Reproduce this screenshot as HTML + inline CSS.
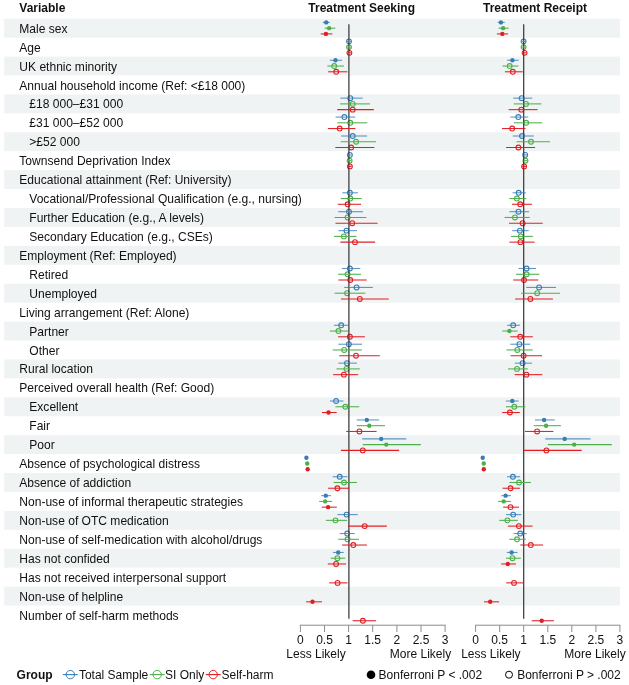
<!DOCTYPE html>
<html lang="en"><head><meta charset="utf-8"><title>Forest plot</title>
<style>html,body{margin:0;padding:0;background:#fff}body{width:629px;height:685px;overflow:hidden}svg{display:block}text{font-family:"Liberation Sans",Arial,Helvetica,sans-serif;font-size:12px;fill:#111}.l{font-size:12.06px}.b{font-weight:bold}</style></head><body>
<svg width="629" height="685" viewBox="0 0 629 685">
<rect width="629" height="685" fill="#fff"/>
<rect x="4.2" y="18.70" width="615.7" height="18.93" fill="#f0f3f3"/>
<rect x="4.2" y="56.56" width="615.7" height="18.93" fill="#f0f3f3"/>
<rect x="4.2" y="94.42" width="615.7" height="18.93" fill="#f0f3f3"/>
<rect x="4.2" y="132.28" width="615.7" height="18.93" fill="#f0f3f3"/>
<rect x="4.2" y="170.14" width="615.7" height="18.93" fill="#f0f3f3"/>
<rect x="4.2" y="208.00" width="615.7" height="18.93" fill="#f0f3f3"/>
<rect x="4.2" y="245.86" width="615.7" height="18.93" fill="#f0f3f3"/>
<rect x="4.2" y="283.72" width="615.7" height="18.93" fill="#f0f3f3"/>
<rect x="4.2" y="321.58" width="615.7" height="18.93" fill="#f0f3f3"/>
<rect x="4.2" y="359.44" width="615.7" height="18.93" fill="#f0f3f3"/>
<rect x="4.2" y="397.30" width="615.7" height="18.93" fill="#f0f3f3"/>
<rect x="4.2" y="435.16" width="615.7" height="18.93" fill="#f0f3f3"/>
<rect x="4.2" y="473.02" width="615.7" height="18.93" fill="#f0f3f3"/>
<rect x="4.2" y="510.88" width="615.7" height="18.93" fill="#f0f3f3"/>
<rect x="4.2" y="548.74" width="615.7" height="18.93" fill="#f0f3f3"/>
<rect x="4.2" y="586.60" width="615.7" height="18.93" fill="#f0f3f3"/>
<text class="b" x="19.3" y="11.8">Variable</text>
<text class="b" x="308.3" y="11.8">Treatment Seeking</text>
<text class="b" x="483" y="11.8">Treatment Receipt</text>
<text class="l" x="19.3" y="32.71">Male sex</text>
<text class="l" x="19.3" y="51.64">Age</text>
<text class="l" x="19.3" y="70.58">UK ethnic minority</text>
<text class="l" x="19.3" y="89.50">Annual household income (Ref: &lt;£18 000)</text>
<text class="l" x="29.3" y="108.44">£18 000–£31 000</text>
<text class="l" x="29.3" y="127.36">£31 000–£52 000</text>
<text class="l" x="29.3" y="146.30">&gt;£52 000</text>
<text class="l" x="19.3" y="165.22">Townsend Deprivation Index</text>
<text class="l" x="19.3" y="184.16">Educational attainment (Ref: University)</text>
<text class="l" x="29.3" y="203.09">Vocational/Professional Qualification (e.g., nursing)</text>
<text class="l" x="29.3" y="222.01">Further Education (e.g., A levels)</text>
<text class="l" x="29.3" y="240.94">Secondary Education (e.g., CSEs)</text>
<text class="l" x="19.3" y="259.88">Employment (Ref: Employed)</text>
<text class="l" x="29.3" y="278.81">Retired</text>
<text class="l" x="29.3" y="297.74">Unemployed</text>
<text class="l" x="19.3" y="316.67">Living arrangement (Ref: Alone)</text>
<text class="l" x="29.3" y="335.59">Partner</text>
<text class="l" x="29.3" y="354.52">Other</text>
<text class="l" x="19.3" y="373.45">Rural location</text>
<text class="l" x="19.3" y="392.38">Perceived overall health (Ref: Good)</text>
<text class="l" x="29.3" y="411.31">Excellent</text>
<text class="l" x="29.3" y="430.25">Fair</text>
<text class="l" x="29.3" y="449.18">Poor</text>
<text class="l" x="19.3" y="468.11">Absence of psychological distress</text>
<text class="l" x="19.3" y="487.03">Absence of addiction</text>
<text class="l" x="19.3" y="505.96">Non-use of informal therapeutic strategies</text>
<text class="l" x="19.3" y="524.89">Non-use of OTC medication</text>
<text class="l" x="19.3" y="543.83">Non-use of self-medication with alcohol/drugs</text>
<text class="l" x="19.3" y="562.75">Has not confided</text>
<text class="l" x="19.3" y="581.68">Has not received interpersonal support</text>
<text class="l" x="19.3" y="600.62">Non-use of helpline</text>
<text class="l" x="19.3" y="619.54">Number of self-harm methods</text>
<circle cx="326.2" cy="22.41" r="2.2" fill="#377EB8"/>
<circle cx="329.1" cy="28.16" r="2.2" fill="#4DAF4A"/>
<circle cx="325.9" cy="33.91" r="2.2" fill="#E01F24"/>
<circle cx="349.0" cy="41.34" r="2.4" fill="none" stroke="#377EB8" stroke-width="1.1"/>
<circle cx="349.0" cy="47.09" r="2.4" fill="none" stroke="#4DAF4A" stroke-width="1.1"/>
<circle cx="349.4" cy="52.84" r="2.4" fill="none" stroke="#E01F24" stroke-width="1.1"/>
<circle cx="335.5" cy="60.28" r="2.2" fill="#377EB8"/>
<circle cx="334.2" cy="66.03" r="2.4" fill="none" stroke="#4DAF4A" stroke-width="1.1"/>
<circle cx="336.2" cy="71.78" r="2.4" fill="none" stroke="#E01F24" stroke-width="1.1"/>
<circle cx="350.3" cy="98.14" r="2.4" fill="none" stroke="#377EB8" stroke-width="1.1"/>
<circle cx="352.7" cy="103.89" r="2.4" fill="none" stroke="#4DAF4A" stroke-width="1.1"/>
<circle cx="352.7" cy="109.64" r="2.4" fill="none" stroke="#E01F24" stroke-width="1.1"/>
<circle cx="344.4" cy="117.06" r="2.4" fill="none" stroke="#377EB8" stroke-width="1.1"/>
<circle cx="350.3" cy="122.81" r="2.4" fill="none" stroke="#4DAF4A" stroke-width="1.1"/>
<circle cx="339.7" cy="128.56" r="2.4" fill="none" stroke="#E01F24" stroke-width="1.1"/>
<circle cx="352.7" cy="136.00" r="2.4" fill="none" stroke="#377EB8" stroke-width="1.1"/>
<circle cx="356.1" cy="141.75" r="2.4" fill="none" stroke="#4DAF4A" stroke-width="1.1"/>
<circle cx="351.2" cy="147.50" r="2.4" fill="none" stroke="#E01F24" stroke-width="1.1"/>
<circle cx="349.9" cy="154.92" r="2.4" fill="none" stroke="#377EB8" stroke-width="1.1"/>
<circle cx="349.6" cy="160.67" r="2.4" fill="none" stroke="#4DAF4A" stroke-width="1.1"/>
<circle cx="349.9" cy="166.42" r="2.4" fill="none" stroke="#E01F24" stroke-width="1.1"/>
<circle cx="349.9" cy="192.78" r="2.4" fill="none" stroke="#377EB8" stroke-width="1.1"/>
<circle cx="350.3" cy="198.53" r="2.4" fill="none" stroke="#4DAF4A" stroke-width="1.1"/>
<circle cx="347.6" cy="204.28" r="2.4" fill="none" stroke="#E01F24" stroke-width="1.1"/>
<circle cx="349.0" cy="211.71" r="2.4" fill="none" stroke="#377EB8" stroke-width="1.1"/>
<circle cx="347.6" cy="217.46" r="2.4" fill="none" stroke="#4DAF4A" stroke-width="1.1"/>
<circle cx="352.2" cy="223.21" r="2.4" fill="none" stroke="#E01F24" stroke-width="1.1"/>
<circle cx="346.5" cy="230.64" r="2.4" fill="none" stroke="#377EB8" stroke-width="1.1"/>
<circle cx="343.9" cy="236.39" r="2.4" fill="none" stroke="#4DAF4A" stroke-width="1.1"/>
<circle cx="355.0" cy="242.14" r="2.4" fill="none" stroke="#E01F24" stroke-width="1.1"/>
<circle cx="349.9" cy="268.50" r="2.4" fill="none" stroke="#377EB8" stroke-width="1.1"/>
<circle cx="347.6" cy="274.25" r="2.4" fill="none" stroke="#4DAF4A" stroke-width="1.1"/>
<circle cx="350.3" cy="280.00" r="2.4" fill="none" stroke="#E01F24" stroke-width="1.1"/>
<circle cx="356.6" cy="287.44" r="2.4" fill="none" stroke="#377EB8" stroke-width="1.1"/>
<circle cx="347.1" cy="293.19" r="2.4" fill="none" stroke="#4DAF4A" stroke-width="1.1"/>
<circle cx="359.8" cy="298.94" r="2.4" fill="none" stroke="#E01F24" stroke-width="1.1"/>
<circle cx="341.2" cy="325.29" r="2.4" fill="none" stroke="#377EB8" stroke-width="1.1"/>
<circle cx="338.4" cy="331.04" r="2.4" fill="none" stroke="#4DAF4A" stroke-width="1.1"/>
<circle cx="349.9" cy="336.79" r="2.4" fill="none" stroke="#E01F24" stroke-width="1.1"/>
<circle cx="348.9" cy="344.22" r="2.4" fill="none" stroke="#377EB8" stroke-width="1.1"/>
<circle cx="344.2" cy="349.97" r="2.4" fill="none" stroke="#4DAF4A" stroke-width="1.1"/>
<circle cx="356.0" cy="355.72" r="2.4" fill="none" stroke="#E01F24" stroke-width="1.1"/>
<circle cx="347.0" cy="363.15" r="2.4" fill="none" stroke="#377EB8" stroke-width="1.1"/>
<circle cx="346.5" cy="368.90" r="2.4" fill="none" stroke="#4DAF4A" stroke-width="1.1"/>
<circle cx="343.9" cy="374.65" r="2.4" fill="none" stroke="#E01F24" stroke-width="1.1"/>
<circle cx="336.1" cy="401.01" r="2.4" fill="none" stroke="#377EB8" stroke-width="1.1"/>
<circle cx="345.3" cy="406.76" r="2.4" fill="none" stroke="#4DAF4A" stroke-width="1.1"/>
<circle cx="328.5" cy="412.51" r="2.2" fill="#E01F24"/>
<circle cx="366.8" cy="419.94" r="2.2" fill="#377EB8"/>
<circle cx="369.3" cy="425.69" r="2.2" fill="#4DAF4A"/>
<circle cx="359.4" cy="431.44" r="2.4" fill="none" stroke="#E01F24" stroke-width="1.1"/>
<circle cx="381.2" cy="438.88" r="2.2" fill="#377EB8"/>
<circle cx="386.3" cy="444.62" r="2.2" fill="#4DAF4A"/>
<circle cx="362.8" cy="450.38" r="2.4" fill="none" stroke="#E01F24" stroke-width="1.1"/>
<circle cx="306.4" cy="457.81" r="2.2" fill="#377EB8"/>
<circle cx="307.2" cy="463.56" r="2.2" fill="#4DAF4A"/>
<circle cx="307.7" cy="469.31" r="2.2" fill="#E01F24"/>
<circle cx="339.7" cy="476.73" r="2.4" fill="none" stroke="#377EB8" stroke-width="1.1"/>
<circle cx="344.0" cy="482.48" r="2.4" fill="none" stroke="#4DAF4A" stroke-width="1.1"/>
<circle cx="337.4" cy="488.23" r="2.4" fill="none" stroke="#E01F24" stroke-width="1.1"/>
<circle cx="325.8" cy="495.66" r="2.2" fill="#377EB8"/>
<circle cx="325.2" cy="501.41" r="2.2" fill="#4DAF4A"/>
<circle cx="328.1" cy="507.16" r="2.2" fill="#E01F24"/>
<circle cx="346.6" cy="514.60" r="2.4" fill="none" stroke="#377EB8" stroke-width="1.1"/>
<circle cx="335.5" cy="520.35" r="2.4" fill="none" stroke="#4DAF4A" stroke-width="1.1"/>
<circle cx="364.7" cy="526.10" r="2.4" fill="none" stroke="#E01F24" stroke-width="1.1"/>
<circle cx="347.2" cy="533.53" r="2.4" fill="none" stroke="#377EB8" stroke-width="1.1"/>
<circle cx="347.5" cy="539.28" r="2.4" fill="none" stroke="#4DAF4A" stroke-width="1.1"/>
<circle cx="353.3" cy="545.03" r="2.4" fill="none" stroke="#E01F24" stroke-width="1.1"/>
<circle cx="338.2" cy="552.46" r="2.2" fill="#377EB8"/>
<circle cx="337.4" cy="558.21" r="2.4" fill="none" stroke="#4DAF4A" stroke-width="1.1"/>
<circle cx="336.1" cy="563.96" r="2.4" fill="none" stroke="#E01F24" stroke-width="1.1"/>
<circle cx="337.6" cy="582.88" r="2.4" fill="none" stroke="#E01F24" stroke-width="1.1"/>
<circle cx="312.5" cy="601.82" r="2.2" fill="#E01F24"/>
<circle cx="362.9" cy="620.75" r="2.4" fill="none" stroke="#E01F24" stroke-width="1.1"/>
<line x1="348.9" y1="24.3" x2="348.9" y2="618.7" stroke="#333" stroke-width="1.2"/>
<line x1="322.7" y1="22.41" x2="329.9" y2="22.41" stroke="#377EB8" stroke-width="1.1" stroke-opacity=".8"/>
<line x1="324.6" y1="28.16" x2="335.3" y2="28.16" stroke="#4DAF4A" stroke-width="1.05"/>
<line x1="320.7" y1="33.91" x2="332.3" y2="33.91" stroke="#E01F24" stroke-width="1.05"/>
<line x1="347.2" y1="41.34" x2="350.8" y2="41.34" stroke="#377EB8" stroke-width="1.1" stroke-opacity=".8"/>
<line x1="347.2" y1="47.09" x2="350.8" y2="47.09" stroke="#4DAF4A" stroke-width="1.05"/>
<line x1="347.6" y1="52.84" x2="351.2" y2="52.84" stroke="#E01F24" stroke-width="1.05"/>
<line x1="329.9" y1="60.28" x2="342.1" y2="60.28" stroke="#377EB8" stroke-width="1.1" stroke-opacity=".8"/>
<line x1="327.3" y1="66.03" x2="343.9" y2="66.03" stroke="#4DAF4A" stroke-width="1.05"/>
<line x1="328.1" y1="71.78" x2="347.4" y2="71.78" stroke="#E01F24" stroke-width="1.05"/>
<line x1="340.4" y1="98.14" x2="362.6" y2="98.14" stroke="#377EB8" stroke-width="1.1" stroke-opacity=".8"/>
<line x1="340.0" y1="103.89" x2="369.9" y2="103.89" stroke="#4DAF4A" stroke-width="1.05"/>
<line x1="337.2" y1="109.64" x2="373.8" y2="109.64" stroke="#E01F24" stroke-width="1.05"/>
<line x1="335.6" y1="117.06" x2="355.2" y2="117.06" stroke="#377EB8" stroke-width="1.1" stroke-opacity=".8"/>
<line x1="337.4" y1="122.81" x2="367.3" y2="122.81" stroke="#4DAF4A" stroke-width="1.05"/>
<line x1="327.9" y1="128.56" x2="355.4" y2="128.56" stroke="#E01F24" stroke-width="1.05"/>
<line x1="341.2" y1="136.00" x2="367.1" y2="136.00" stroke="#377EB8" stroke-width="1.1" stroke-opacity=".8"/>
<line x1="340.7" y1="141.75" x2="376.0" y2="141.75" stroke="#4DAF4A" stroke-width="1.05"/>
<line x1="335.3" y1="147.50" x2="374.3" y2="147.50" stroke="#E01F24" stroke-width="1.05"/>
<line x1="348.1" y1="154.92" x2="351.7" y2="154.92" stroke="#377EB8" stroke-width="1.1" stroke-opacity=".8"/>
<line x1="347.8" y1="160.67" x2="351.4" y2="160.67" stroke="#4DAF4A" stroke-width="1.05"/>
<line x1="348.1" y1="166.42" x2="351.7" y2="166.42" stroke="#E01F24" stroke-width="1.05"/>
<line x1="342.3" y1="192.78" x2="357.9" y2="192.78" stroke="#377EB8" stroke-width="1.1" stroke-opacity=".8"/>
<line x1="340.7" y1="198.53" x2="361.7" y2="198.53" stroke="#4DAF4A" stroke-width="1.05"/>
<line x1="337.8" y1="204.28" x2="361.0" y2="204.28" stroke="#E01F24" stroke-width="1.05"/>
<line x1="338.2" y1="211.71" x2="363.0" y2="211.71" stroke="#377EB8" stroke-width="1.1" stroke-opacity=".8"/>
<line x1="334.6" y1="217.46" x2="366.4" y2="217.46" stroke="#4DAF4A" stroke-width="1.05"/>
<line x1="335.5" y1="223.21" x2="377.6" y2="223.21" stroke="#E01F24" stroke-width="1.05"/>
<line x1="338.4" y1="230.64" x2="356.9" y2="230.64" stroke="#377EB8" stroke-width="1.1" stroke-opacity=".8"/>
<line x1="334.0" y1="236.39" x2="356.5" y2="236.39" stroke="#4DAF4A" stroke-width="1.05"/>
<line x1="340.4" y1="242.14" x2="375.1" y2="242.14" stroke="#E01F24" stroke-width="1.05"/>
<line x1="341.9" y1="268.50" x2="360.3" y2="268.50" stroke="#377EB8" stroke-width="1.1" stroke-opacity=".8"/>
<line x1="338.1" y1="274.25" x2="361.1" y2="274.25" stroke="#4DAF4A" stroke-width="1.05"/>
<line x1="338.4" y1="280.00" x2="366.7" y2="280.00" stroke="#E01F24" stroke-width="1.05"/>
<line x1="344.2" y1="287.44" x2="372.8" y2="287.44" stroke="#377EB8" stroke-width="1.1" stroke-opacity=".8"/>
<line x1="334.6" y1="293.19" x2="365.4" y2="293.19" stroke="#4DAF4A" stroke-width="1.05"/>
<line x1="341.0" y1="298.94" x2="388.8" y2="298.94" stroke="#E01F24" stroke-width="1.05"/>
<line x1="334.0" y1="325.29" x2="348.6" y2="325.29" stroke="#377EB8" stroke-width="1.1" stroke-opacity=".8"/>
<line x1="329.9" y1="331.04" x2="348.0" y2="331.04" stroke="#4DAF4A" stroke-width="1.05"/>
<line x1="338.1" y1="336.79" x2="364.9" y2="336.79" stroke="#E01F24" stroke-width="1.05"/>
<line x1="338.4" y1="344.22" x2="362.0" y2="344.22" stroke="#377EB8" stroke-width="1.1" stroke-opacity=".8"/>
<line x1="332.7" y1="349.97" x2="361.7" y2="349.97" stroke="#4DAF4A" stroke-width="1.05"/>
<line x1="339.3" y1="355.72" x2="379.8" y2="355.72" stroke="#E01F24" stroke-width="1.05"/>
<line x1="338.4" y1="363.15" x2="356.9" y2="363.15" stroke="#377EB8" stroke-width="1.1" stroke-opacity=".8"/>
<line x1="336.5" y1="368.90" x2="359.8" y2="368.90" stroke="#4DAF4A" stroke-width="1.05"/>
<line x1="333.1" y1="374.65" x2="358.2" y2="374.65" stroke="#E01F24" stroke-width="1.05"/>
<line x1="330.0" y1="401.01" x2="343.4" y2="401.01" stroke="#377EB8" stroke-width="1.1" stroke-opacity=".8"/>
<line x1="335.4" y1="406.76" x2="359.2" y2="406.76" stroke="#4DAF4A" stroke-width="1.05"/>
<line x1="322.0" y1="412.51" x2="336.7" y2="412.51" stroke="#E01F24" stroke-width="1.05"/>
<line x1="356.7" y1="419.94" x2="379.1" y2="419.94" stroke="#377EB8" stroke-width="1.1" stroke-opacity=".8"/>
<line x1="356.7" y1="425.69" x2="385.0" y2="425.69" stroke="#4DAF4A" stroke-width="1.05"/>
<line x1="346.2" y1="431.44" x2="376.6" y2="431.44" stroke="#E01F24" stroke-width="1.05"/>
<line x1="362.1" y1="438.88" x2="406.3" y2="438.88" stroke="#377EB8" stroke-width="1.1" stroke-opacity=".8"/>
<line x1="362.8" y1="444.62" x2="420.8" y2="444.62" stroke="#4DAF4A" stroke-width="1.05"/>
<line x1="340.9" y1="450.38" x2="399.1" y2="450.38" stroke="#E01F24" stroke-width="1.05"/>
<line x1="332.7" y1="476.73" x2="347.5" y2="476.73" stroke="#377EB8" stroke-width="1.1" stroke-opacity=".8"/>
<line x1="333.6" y1="482.48" x2="357.0" y2="482.48" stroke="#4DAF4A" stroke-width="1.05"/>
<line x1="328.1" y1="488.23" x2="349.4" y2="488.23" stroke="#E01F24" stroke-width="1.05"/>
<line x1="321.2" y1="495.66" x2="331.1" y2="495.66" stroke="#377EB8" stroke-width="1.1" stroke-opacity=".8"/>
<line x1="319.2" y1="501.41" x2="332.0" y2="501.41" stroke="#4DAF4A" stroke-width="1.05"/>
<line x1="321.7" y1="507.16" x2="336.8" y2="507.16" stroke="#E01F24" stroke-width="1.05"/>
<line x1="337.4" y1="514.60" x2="357.7" y2="514.60" stroke="#377EB8" stroke-width="1.1" stroke-opacity=".8"/>
<line x1="325.9" y1="520.35" x2="347.2" y2="520.35" stroke="#4DAF4A" stroke-width="1.05"/>
<line x1="348.2" y1="526.10" x2="386.8" y2="526.10" stroke="#E01F24" stroke-width="1.05"/>
<line x1="339.7" y1="533.53" x2="354.8" y2="533.53" stroke="#377EB8" stroke-width="1.1" stroke-opacity=".8"/>
<line x1="338.3" y1="539.28" x2="359.0" y2="539.28" stroke="#4DAF4A" stroke-width="1.05"/>
<line x1="342.1" y1="545.03" x2="366.9" y2="545.03" stroke="#E01F24" stroke-width="1.05"/>
<line x1="332.9" y1="552.46" x2="343.7" y2="552.46" stroke="#377EB8" stroke-width="1.1" stroke-opacity=".8"/>
<line x1="330.7" y1="558.21" x2="345.3" y2="558.21" stroke="#4DAF4A" stroke-width="1.05"/>
<line x1="327.8" y1="563.96" x2="346.1" y2="563.96" stroke="#E01F24" stroke-width="1.05"/>
<line x1="329.2" y1="582.88" x2="347.5" y2="582.88" stroke="#E01F24" stroke-width="1.05"/>
<line x1="306.1" y1="601.82" x2="322.0" y2="601.82" stroke="#E01F24" stroke-width="1.05"/>
<line x1="352.6" y1="620.75" x2="376.1" y2="620.75" stroke="#E01F24" stroke-width="1.05"/>
<circle cx="500.9" cy="22.41" r="2.2" fill="#377EB8"/>
<circle cx="503.1" cy="28.16" r="2.2" fill="#4DAF4A"/>
<circle cx="502.3" cy="33.91" r="2.2" fill="#E01F24"/>
<circle cx="523.6" cy="41.34" r="2.4" fill="none" stroke="#377EB8" stroke-width="1.1"/>
<circle cx="523.6" cy="47.09" r="2.4" fill="none" stroke="#4DAF4A" stroke-width="1.1"/>
<circle cx="524.6" cy="52.84" r="2.4" fill="none" stroke="#E01F24" stroke-width="1.1"/>
<circle cx="512.4" cy="60.28" r="2.2" fill="#377EB8"/>
<circle cx="509.7" cy="66.03" r="2.4" fill="none" stroke="#4DAF4A" stroke-width="1.1"/>
<circle cx="512.8" cy="71.78" r="2.4" fill="none" stroke="#E01F24" stroke-width="1.1"/>
<circle cx="521.7" cy="98.14" r="2.4" fill="none" stroke="#377EB8" stroke-width="1.1"/>
<circle cx="526.0" cy="103.89" r="2.4" fill="none" stroke="#4DAF4A" stroke-width="1.1"/>
<circle cx="521.3" cy="109.64" r="2.4" fill="none" stroke="#E01F24" stroke-width="1.1"/>
<circle cx="518.3" cy="117.06" r="2.4" fill="none" stroke="#377EB8" stroke-width="1.1"/>
<circle cx="526.2" cy="122.81" r="2.4" fill="none" stroke="#4DAF4A" stroke-width="1.1"/>
<circle cx="512.2" cy="128.56" r="2.4" fill="none" stroke="#E01F24" stroke-width="1.1"/>
<circle cx="522.0" cy="136.00" r="2.4" fill="none" stroke="#377EB8" stroke-width="1.1"/>
<circle cx="531.0" cy="141.75" r="2.4" fill="none" stroke="#4DAF4A" stroke-width="1.1"/>
<circle cx="518.4" cy="147.50" r="2.4" fill="none" stroke="#E01F24" stroke-width="1.1"/>
<circle cx="525.2" cy="154.92" r="2.4" fill="none" stroke="#377EB8" stroke-width="1.1"/>
<circle cx="525.5" cy="160.67" r="2.4" fill="none" stroke="#4DAF4A" stroke-width="1.1"/>
<circle cx="524.1" cy="166.42" r="2.4" fill="none" stroke="#E01F24" stroke-width="1.1"/>
<circle cx="518.7" cy="192.78" r="2.4" fill="none" stroke="#377EB8" stroke-width="1.1"/>
<circle cx="516.9" cy="198.53" r="2.4" fill="none" stroke="#4DAF4A" stroke-width="1.1"/>
<circle cx="520.2" cy="204.28" r="2.4" fill="none" stroke="#E01F24" stroke-width="1.1"/>
<circle cx="518.5" cy="211.71" r="2.4" fill="none" stroke="#377EB8" stroke-width="1.1"/>
<circle cx="515.0" cy="217.46" r="2.4" fill="none" stroke="#4DAF4A" stroke-width="1.1"/>
<circle cx="522.6" cy="223.21" r="2.4" fill="none" stroke="#E01F24" stroke-width="1.1"/>
<circle cx="519.9" cy="230.64" r="2.4" fill="none" stroke="#377EB8" stroke-width="1.1"/>
<circle cx="520.8" cy="236.39" r="2.4" fill="none" stroke="#4DAF4A" stroke-width="1.1"/>
<circle cx="520.4" cy="242.14" r="2.4" fill="none" stroke="#E01F24" stroke-width="1.1"/>
<circle cx="526.6" cy="268.50" r="2.4" fill="none" stroke="#377EB8" stroke-width="1.1"/>
<circle cx="526.6" cy="274.25" r="2.4" fill="none" stroke="#4DAF4A" stroke-width="1.1"/>
<circle cx="524.0" cy="280.00" r="2.4" fill="none" stroke="#E01F24" stroke-width="1.1"/>
<circle cx="539.1" cy="287.44" r="2.4" fill="none" stroke="#377EB8" stroke-width="1.1"/>
<circle cx="537.2" cy="293.19" r="2.4" fill="none" stroke="#4DAF4A" stroke-width="1.1"/>
<circle cx="530.4" cy="298.94" r="2.4" fill="none" stroke="#E01F24" stroke-width="1.1"/>
<circle cx="513.2" cy="325.29" r="2.4" fill="none" stroke="#377EB8" stroke-width="1.1"/>
<circle cx="509.4" cy="331.04" r="2.2" fill="#4DAF4A"/>
<circle cx="520.2" cy="336.79" r="2.4" fill="none" stroke="#E01F24" stroke-width="1.1"/>
<circle cx="519.4" cy="344.22" r="2.4" fill="none" stroke="#377EB8" stroke-width="1.1"/>
<circle cx="517.3" cy="349.97" r="2.4" fill="none" stroke="#4DAF4A" stroke-width="1.1"/>
<circle cx="523.6" cy="355.72" r="2.4" fill="none" stroke="#E01F24" stroke-width="1.1"/>
<circle cx="522.6" cy="363.15" r="2.4" fill="none" stroke="#377EB8" stroke-width="1.1"/>
<circle cx="517.0" cy="368.90" r="2.4" fill="none" stroke="#4DAF4A" stroke-width="1.1"/>
<circle cx="526.4" cy="374.65" r="2.4" fill="none" stroke="#E01F24" stroke-width="1.1"/>
<circle cx="512.3" cy="401.01" r="2.2" fill="#377EB8"/>
<circle cx="514.3" cy="406.76" r="2.4" fill="none" stroke="#4DAF4A" stroke-width="1.1"/>
<circle cx="509.9" cy="412.51" r="2.4" fill="none" stroke="#E01F24" stroke-width="1.1"/>
<circle cx="544.1" cy="419.94" r="2.2" fill="#377EB8"/>
<circle cx="546.1" cy="425.69" r="2.2" fill="#4DAF4A"/>
<circle cx="537.1" cy="431.44" r="2.4" fill="none" stroke="#E01F24" stroke-width="1.1"/>
<circle cx="564.7" cy="438.88" r="2.2" fill="#377EB8"/>
<circle cx="574.2" cy="444.62" r="2.2" fill="#4DAF4A"/>
<circle cx="546.4" cy="450.38" r="2.4" fill="none" stroke="#E01F24" stroke-width="1.1"/>
<circle cx="482.7" cy="457.81" r="2.2" fill="#377EB8"/>
<circle cx="483.8" cy="463.56" r="2.2" fill="#4DAF4A"/>
<circle cx="483.8" cy="469.31" r="2.2" fill="#E01F24"/>
<circle cx="512.9" cy="476.73" r="2.4" fill="none" stroke="#377EB8" stroke-width="1.1"/>
<circle cx="519.0" cy="482.48" r="2.4" fill="none" stroke="#4DAF4A" stroke-width="1.1"/>
<circle cx="510.5" cy="488.23" r="2.4" fill="none" stroke="#E01F24" stroke-width="1.1"/>
<circle cx="505.6" cy="495.66" r="2.2" fill="#377EB8"/>
<circle cx="503.7" cy="501.41" r="2.2" fill="#4DAF4A"/>
<circle cx="510.5" cy="507.16" r="2.4" fill="none" stroke="#E01F24" stroke-width="1.1"/>
<circle cx="513.2" cy="514.60" r="2.4" fill="none" stroke="#377EB8" stroke-width="1.1"/>
<circle cx="507.4" cy="520.35" r="2.4" fill="none" stroke="#4DAF4A" stroke-width="1.1"/>
<circle cx="518.9" cy="526.10" r="2.4" fill="none" stroke="#E01F24" stroke-width="1.1"/>
<circle cx="520.2" cy="533.53" r="2.4" fill="none" stroke="#377EB8" stroke-width="1.1"/>
<circle cx="517.0" cy="539.28" r="2.4" fill="none" stroke="#4DAF4A" stroke-width="1.1"/>
<circle cx="530.8" cy="545.03" r="2.4" fill="none" stroke="#E01F24" stroke-width="1.1"/>
<circle cx="511.6" cy="552.46" r="2.2" fill="#377EB8"/>
<circle cx="512.5" cy="558.21" r="2.4" fill="none" stroke="#4DAF4A" stroke-width="1.1"/>
<circle cx="507.8" cy="563.96" r="2.2" fill="#E01F24"/>
<circle cx="514.0" cy="582.88" r="2.4" fill="none" stroke="#E01F24" stroke-width="1.1"/>
<circle cx="490.2" cy="601.82" r="2.2" fill="#E01F24"/>
<circle cx="541.7" cy="620.75" r="2.2" fill="#E01F24"/>
<line x1="523.7" y1="24.3" x2="523.7" y2="618.7" stroke="#333" stroke-width="1.2"/>
<line x1="497.7" y1="22.41" x2="504.7" y2="22.41" stroke="#377EB8" stroke-width="1.1" stroke-opacity=".8"/>
<line x1="498.5" y1="28.16" x2="508.7" y2="28.16" stroke="#4DAF4A" stroke-width="1.05"/>
<line x1="496.9" y1="33.91" x2="508.1" y2="33.91" stroke="#E01F24" stroke-width="1.05"/>
<line x1="521.8" y1="41.34" x2="525.4" y2="41.34" stroke="#377EB8" stroke-width="1.1" stroke-opacity=".8"/>
<line x1="521.8" y1="47.09" x2="525.4" y2="47.09" stroke="#4DAF4A" stroke-width="1.05"/>
<line x1="522.8" y1="52.84" x2="526.4" y2="52.84" stroke="#E01F24" stroke-width="1.05"/>
<line x1="507.1" y1="60.28" x2="518.7" y2="60.28" stroke="#377EB8" stroke-width="1.1" stroke-opacity=".8"/>
<line x1="502.5" y1="66.03" x2="518.4" y2="66.03" stroke="#4DAF4A" stroke-width="1.05"/>
<line x1="504.9" y1="71.78" x2="522.7" y2="71.78" stroke="#E01F24" stroke-width="1.05"/>
<line x1="513.2" y1="98.14" x2="532.2" y2="98.14" stroke="#377EB8" stroke-width="1.1" stroke-opacity=".8"/>
<line x1="513.8" y1="103.89" x2="541.4" y2="103.89" stroke="#4DAF4A" stroke-width="1.05"/>
<line x1="508.7" y1="109.64" x2="537.6" y2="109.64" stroke="#E01F24" stroke-width="1.05"/>
<line x1="510.3" y1="117.06" x2="528.3" y2="117.06" stroke="#377EB8" stroke-width="1.1" stroke-opacity=".8"/>
<line x1="513.7" y1="122.81" x2="542.3" y2="122.81" stroke="#4DAF4A" stroke-width="1.05"/>
<line x1="502.0" y1="128.56" x2="525.5" y2="128.56" stroke="#E01F24" stroke-width="1.05"/>
<line x1="512.8" y1="136.00" x2="533.8" y2="136.00" stroke="#377EB8" stroke-width="1.1" stroke-opacity=".8"/>
<line x1="516.6" y1="141.75" x2="550.0" y2="141.75" stroke="#4DAF4A" stroke-width="1.05"/>
<line x1="506.1" y1="147.50" x2="535.1" y2="147.50" stroke="#E01F24" stroke-width="1.05"/>
<line x1="523.4" y1="154.92" x2="527.0" y2="154.92" stroke="#377EB8" stroke-width="1.1" stroke-opacity=".8"/>
<line x1="523.7" y1="160.67" x2="527.3" y2="160.67" stroke="#4DAF4A" stroke-width="1.05"/>
<line x1="522.3" y1="166.42" x2="525.9" y2="166.42" stroke="#E01F24" stroke-width="1.05"/>
<line x1="512.6" y1="192.78" x2="525.8" y2="192.78" stroke="#377EB8" stroke-width="1.1" stroke-opacity=".8"/>
<line x1="509.4" y1="198.53" x2="526.3" y2="198.53" stroke="#4DAF4A" stroke-width="1.05"/>
<line x1="511.9" y1="204.28" x2="531.9" y2="204.28" stroke="#E01F24" stroke-width="1.05"/>
<line x1="509.4" y1="211.71" x2="529.1" y2="211.71" stroke="#377EB8" stroke-width="1.1" stroke-opacity=".8"/>
<line x1="504.5" y1="217.46" x2="529.7" y2="217.46" stroke="#4DAF4A" stroke-width="1.05"/>
<line x1="509.0" y1="223.21" x2="542.7" y2="223.21" stroke="#E01F24" stroke-width="1.05"/>
<line x1="512.2" y1="230.64" x2="528.7" y2="230.64" stroke="#377EB8" stroke-width="1.1" stroke-opacity=".8"/>
<line x1="510.9" y1="236.39" x2="532.9" y2="236.39" stroke="#4DAF4A" stroke-width="1.05"/>
<line x1="509.4" y1="242.14" x2="534.7" y2="242.14" stroke="#E01F24" stroke-width="1.05"/>
<line x1="518.5" y1="268.50" x2="536.0" y2="268.50" stroke="#377EB8" stroke-width="1.1" stroke-opacity=".8"/>
<line x1="516.0" y1="274.25" x2="539.3" y2="274.25" stroke="#4DAF4A" stroke-width="1.05"/>
<line x1="513.2" y1="280.00" x2="538.3" y2="280.00" stroke="#E01F24" stroke-width="1.05"/>
<line x1="526.2" y1="287.44" x2="556.1" y2="287.44" stroke="#377EB8" stroke-width="1.1" stroke-opacity=".8"/>
<line x1="521.1" y1="293.19" x2="560.1" y2="293.19" stroke="#4DAF4A" stroke-width="1.05"/>
<line x1="515.1" y1="298.94" x2="552.9" y2="298.94" stroke="#E01F24" stroke-width="1.05"/>
<line x1="507.1" y1="325.29" x2="519.8" y2="325.29" stroke="#377EB8" stroke-width="1.1" stroke-opacity=".8"/>
<line x1="502.3" y1="331.04" x2="517.6" y2="331.04" stroke="#4DAF4A" stroke-width="1.05"/>
<line x1="510.3" y1="336.79" x2="532.8" y2="336.79" stroke="#E01F24" stroke-width="1.05"/>
<line x1="510.3" y1="344.22" x2="530.2" y2="344.22" stroke="#377EB8" stroke-width="1.1" stroke-opacity=".8"/>
<line x1="506.5" y1="349.97" x2="532.8" y2="349.97" stroke="#4DAF4A" stroke-width="1.05"/>
<line x1="510.6" y1="355.72" x2="542.1" y2="355.72" stroke="#E01F24" stroke-width="1.05"/>
<line x1="514.7" y1="363.15" x2="531.9" y2="363.15" stroke="#377EB8" stroke-width="1.1" stroke-opacity=".8"/>
<line x1="508.0" y1="368.90" x2="527.8" y2="368.90" stroke="#4DAF4A" stroke-width="1.05"/>
<line x1="514.7" y1="374.65" x2="542.3" y2="374.65" stroke="#E01F24" stroke-width="1.05"/>
<line x1="505.9" y1="401.01" x2="518.7" y2="401.01" stroke="#377EB8" stroke-width="1.1" stroke-opacity=".8"/>
<line x1="505.9" y1="406.76" x2="525.4" y2="406.76" stroke="#4DAF4A" stroke-width="1.05"/>
<line x1="502.2" y1="412.51" x2="519.8" y2="412.51" stroke="#E01F24" stroke-width="1.05"/>
<line x1="534.9" y1="419.94" x2="554.8" y2="419.94" stroke="#377EB8" stroke-width="1.1" stroke-opacity=".8"/>
<line x1="533.8" y1="425.69" x2="560.9" y2="425.69" stroke="#4DAF4A" stroke-width="1.05"/>
<line x1="524.9" y1="431.44" x2="553.4" y2="431.44" stroke="#E01F24" stroke-width="1.05"/>
<line x1="545.2" y1="438.88" x2="590.6" y2="438.88" stroke="#377EB8" stroke-width="1.1" stroke-opacity=".8"/>
<line x1="547.9" y1="444.62" x2="611.8" y2="444.62" stroke="#4DAF4A" stroke-width="1.05"/>
<line x1="523.8" y1="450.38" x2="581.7" y2="450.38" stroke="#E01F24" stroke-width="1.05"/>
<line x1="507.0" y1="476.73" x2="520.1" y2="476.73" stroke="#377EB8" stroke-width="1.1" stroke-opacity=".8"/>
<line x1="509.4" y1="482.48" x2="530.9" y2="482.48" stroke="#4DAF4A" stroke-width="1.05"/>
<line x1="502.6" y1="488.23" x2="520.1" y2="488.23" stroke="#E01F24" stroke-width="1.05"/>
<line x1="501.3" y1="495.66" x2="511.0" y2="495.66" stroke="#377EB8" stroke-width="1.1" stroke-opacity=".8"/>
<line x1="498.1" y1="501.41" x2="510.9" y2="501.41" stroke="#4DAF4A" stroke-width="1.05"/>
<line x1="503.1" y1="507.16" x2="519.0" y2="507.16" stroke="#E01F24" stroke-width="1.05"/>
<line x1="506.0" y1="514.60" x2="521.4" y2="514.60" stroke="#377EB8" stroke-width="1.1" stroke-opacity=".8"/>
<line x1="499.2" y1="520.35" x2="517.9" y2="520.35" stroke="#4DAF4A" stroke-width="1.05"/>
<line x1="507.9" y1="526.10" x2="532.6" y2="526.10" stroke="#E01F24" stroke-width="1.05"/>
<line x1="513.6" y1="533.53" x2="526.8" y2="533.53" stroke="#377EB8" stroke-width="1.1" stroke-opacity=".8"/>
<line x1="509.2" y1="539.28" x2="525.9" y2="539.28" stroke="#4DAF4A" stroke-width="1.05"/>
<line x1="520.3" y1="545.03" x2="543.0" y2="545.03" stroke="#E01F24" stroke-width="1.05"/>
<line x1="506.8" y1="552.46" x2="517.6" y2="552.46" stroke="#377EB8" stroke-width="1.1" stroke-opacity=".8"/>
<line x1="506.0" y1="558.21" x2="520.8" y2="558.21" stroke="#4DAF4A" stroke-width="1.05"/>
<line x1="501.2" y1="563.96" x2="516.0" y2="563.96" stroke="#E01F24" stroke-width="1.05"/>
<line x1="506.2" y1="582.88" x2="523.7" y2="582.88" stroke="#E01F24" stroke-width="1.05"/>
<line x1="484.0" y1="601.82" x2="499.1" y2="601.82" stroke="#E01F24" stroke-width="1.05"/>
<line x1="531.7" y1="620.75" x2="553.9" y2="620.75" stroke="#E01F24" stroke-width="1.05"/>
<path d="M299.9 625.2H445.6" stroke="#8c8c8c" stroke-width="1" fill="none"/>
<line x1="300.4" y1="625.2" x2="300.4" y2="632" stroke="#8c8c8c" stroke-width="1"/>
<text x="300.4" y="643.8" text-anchor="middle">0</text>
<line x1="324.5" y1="625.2" x2="324.5" y2="632" stroke="#8c8c8c" stroke-width="1"/>
<text x="324.5" y="643.8" text-anchor="middle">0.5</text>
<line x1="348.6" y1="625.2" x2="348.6" y2="632" stroke="#8c8c8c" stroke-width="1"/>
<text x="348.6" y="643.8" text-anchor="middle">1</text>
<line x1="372.7" y1="625.2" x2="372.7" y2="632" stroke="#8c8c8c" stroke-width="1"/>
<text x="372.7" y="643.8" text-anchor="middle">1.5</text>
<line x1="396.9" y1="625.2" x2="396.9" y2="632" stroke="#8c8c8c" stroke-width="1"/>
<text x="396.9" y="643.8" text-anchor="middle">2</text>
<line x1="421.0" y1="625.2" x2="421.0" y2="632" stroke="#8c8c8c" stroke-width="1"/>
<text x="421.0" y="643.8" text-anchor="middle">2.5</text>
<line x1="445.1" y1="625.2" x2="445.1" y2="632" stroke="#8c8c8c" stroke-width="1"/>
<text x="445.1" y="643.8" text-anchor="middle">3</text>
<path d="M475.1 625.2H620.4" stroke="#8c8c8c" stroke-width="1" fill="none"/>
<line x1="475.6" y1="625.2" x2="475.6" y2="632" stroke="#8c8c8c" stroke-width="1"/>
<text x="475.6" y="643.8" text-anchor="middle">0</text>
<line x1="499.7" y1="625.2" x2="499.7" y2="632" stroke="#8c8c8c" stroke-width="1"/>
<text x="499.7" y="643.8" text-anchor="middle">0.5</text>
<line x1="523.7" y1="625.2" x2="523.7" y2="632" stroke="#8c8c8c" stroke-width="1"/>
<text x="523.7" y="643.8" text-anchor="middle">1</text>
<line x1="547.8" y1="625.2" x2="547.8" y2="632" stroke="#8c8c8c" stroke-width="1"/>
<text x="547.8" y="643.8" text-anchor="middle">1.5</text>
<line x1="571.8" y1="625.2" x2="571.8" y2="632" stroke="#8c8c8c" stroke-width="1"/>
<text x="571.8" y="643.8" text-anchor="middle">2</text>
<line x1="595.9" y1="625.2" x2="595.9" y2="632" stroke="#8c8c8c" stroke-width="1"/>
<text x="595.9" y="643.8" text-anchor="middle">2.5</text>
<line x1="619.9" y1="625.2" x2="619.9" y2="632" stroke="#8c8c8c" stroke-width="1"/>
<text x="619.9" y="643.8" text-anchor="middle">3</text>
<text x="286.3" y="658.2">Less Likely</text>
<text x="389.8" y="658.2">More Likely</text>
<text x="461.2" y="658.2">Less Likely</text>
<text x="564.3" y="658.2">More Likely</text>
<text class="b" x="16.6" y="678.9">Group</text>
<line x1="62.8" y1="674.6" x2="77.8" y2="674.6" stroke="#377EB8" stroke-width="1.1"/>
<circle cx="70.3" cy="674.6" r="4.2" fill="none" stroke="#377EB8" stroke-width="1"/>
<text x="78.9" y="678.9">Total Sample</text>
<line x1="149.7" y1="674.6" x2="164.7" y2="674.6" stroke="#4DAF4A" stroke-width="1.1"/>
<circle cx="157.2" cy="674.6" r="4.2" fill="none" stroke="#4DAF4A" stroke-width="1"/>
<text x="165.0" y="678.9">SI Only</text>
<line x1="205.7" y1="674.6" x2="220.7" y2="674.6" stroke="#E01F24" stroke-width="1.1"/>
<circle cx="213.2" cy="674.6" r="4.2" fill="none" stroke="#E01F24" stroke-width="1"/>
<text x="221.5" y="678.9">Self-harm</text>
<circle cx="371" cy="674.7" r="4.3" fill="#000"/>
<text x="378.6" y="678.9">Bonferroni P &lt; .002</text>
<circle cx="509" cy="674.7" r="3.5" fill="none" stroke="#000" stroke-width="1"/>
<text x="517.2" y="678.9">Bonferroni P &gt; .002</text>
</svg></body></html>
